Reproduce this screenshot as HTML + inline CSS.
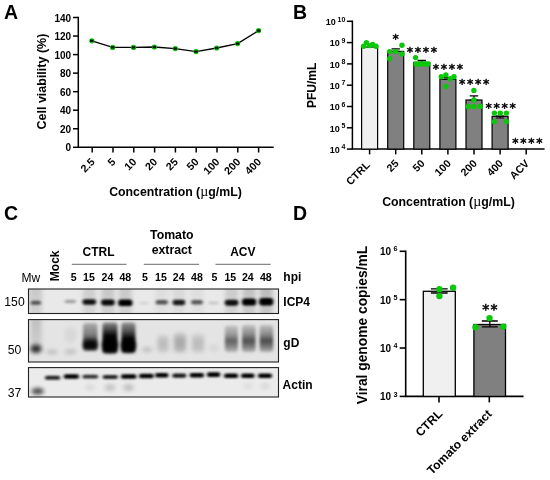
<!DOCTYPE html>
<html lang="en"><head><meta charset="utf-8"><title>Figure</title>
<style>html,body{margin:0;padding:0;background:#fff}svg{display:block}text{fill:#000}</style>
</head><body>
<svg width="550" height="480" viewBox="0 0 550 480">
<defs>
<filter id="b1" x="-50%" y="-200%" width="200%" height="500%"><feGaussianBlur stdDeviation="1.6 0.9"/></filter>
<filter id="b2" x="-50%" y="-100%" width="200%" height="300%"><feGaussianBlur stdDeviation="2 2.2"/></filter>
<filter id="b3" x="-50%" y="-100%" width="200%" height="300%"><feGaussianBlur stdDeviation="2.2 3.5"/></filter>
<filter id="b4" x="-50%" y="-200%" width="200%" height="500%"><feGaussianBlur stdDeviation="1.5 0.8"/></filter>
<filter id="b5" x="-50%" y="-50%" width="200%" height="200%"><feGaussianBlur stdDeviation="1.7 1.8"/></filter>
<linearGradient id="g1" x1="0" y1="0" x2="0" y2="1"><stop offset="0" stop-color="#000" stop-opacity="0.14"/><stop offset="1" stop-color="#000" stop-opacity="0.098"/></linearGradient>
<linearGradient id="g2" x1="0" y1="0" x2="0" y2="1"><stop offset="0" stop-color="#000" stop-opacity="0.12"/><stop offset="1" stop-color="#000" stop-opacity="0.08399999999999999"/></linearGradient>
<linearGradient id="g3" x1="0" y1="0" x2="0" y2="1"><stop offset="0" stop-color="#000" stop-opacity="0.15"/><stop offset="1" stop-color="#000" stop-opacity="0.105"/></linearGradient>
<linearGradient id="g4" x1="0" y1="0" x2="0" y2="1"><stop offset="0" stop-color="#000" stop-opacity="0.14"/><stop offset="1" stop-color="#000" stop-opacity="0.098"/></linearGradient>
<linearGradient id="g5" x1="0" y1="0" x2="0" y2="1"><stop offset="0" stop-color="#000" stop-opacity="0.05"/><stop offset="1" stop-color="#000" stop-opacity="0.034999999999999996"/></linearGradient>
<linearGradient id="g6" x1="0" y1="0" x2="0" y2="1"><stop offset="0" stop-color="#000" stop-opacity="0.07"/><stop offset="1" stop-color="#000" stop-opacity="0.049"/></linearGradient>
<linearGradient id="g7" x1="0" y1="0" x2="0" y2="1"><stop offset="0" stop-color="#000" stop-opacity="0.05"/><stop offset="1" stop-color="#000" stop-opacity="0.034999999999999996"/></linearGradient>
<linearGradient id="g8" x1="0" y1="0" x2="0" y2="1"><stop offset="0" stop-color="#000" stop-opacity="0.13"/><stop offset="1" stop-color="#000" stop-opacity="0.091"/></linearGradient>
<linearGradient id="g9" x1="0" y1="0" x2="0" y2="1"><stop offset="0" stop-color="#000" stop-opacity="0.18"/><stop offset="1" stop-color="#000" stop-opacity="0.126"/></linearGradient>
<linearGradient id="g10" x1="0" y1="0" x2="0" y2="1"><stop offset="0" stop-color="#000" stop-opacity="0.2"/><stop offset="1" stop-color="#000" stop-opacity="0.13999999999999999"/></linearGradient>
<linearGradient id="g11" x1="0" y1="0" x2="0" y2="1"><stop offset="0" stop-color="#000" stop-opacity="0.16"/><stop offset="1" stop-color="#000" stop-opacity="0.1"/></linearGradient>
<linearGradient id="g12" x1="0" y1="0" x2="0" y2="1"><stop offset="0" stop-color="#000" stop-opacity="0.24"/><stop offset="0.45" stop-color="#000" stop-opacity="0.48"/><stop offset="0.66" stop-color="#000" stop-opacity="0.82"/><stop offset="0.9" stop-color="#000" stop-opacity="0.9"/><stop offset="1" stop-color="#000" stop-opacity="0.4"/></linearGradient>
<linearGradient id="g13" x1="0" y1="0" x2="0" y2="1"><stop offset="0" stop-color="#000" stop-opacity="0.4"/><stop offset="0.25" stop-color="#000" stop-opacity="0.72"/><stop offset="0.42" stop-color="#000" stop-opacity="0.98"/><stop offset="0.95" stop-color="#000" stop-opacity="1"/><stop offset="1" stop-color="#000" stop-opacity="0.6"/></linearGradient>
<linearGradient id="g14" x1="0" y1="0" x2="0" y2="1"><stop offset="0" stop-color="#000" stop-opacity="0.36"/><stop offset="0.3" stop-color="#000" stop-opacity="0.66"/><stop offset="0.52" stop-color="#000" stop-opacity="0.98"/><stop offset="0.95" stop-color="#000" stop-opacity="1"/><stop offset="1" stop-color="#000" stop-opacity="0.6"/></linearGradient>
<linearGradient id="g15" x1="0" y1="0" x2="0" y2="1"><stop offset="0" stop-color="#000" stop-opacity="0.08"/><stop offset="0.4" stop-color="#000" stop-opacity="0.18"/><stop offset="1" stop-color="#000" stop-opacity="0.14"/></linearGradient>
<linearGradient id="g16" x1="0" y1="0" x2="0" y2="1"><stop offset="0" stop-color="#000" stop-opacity="0.12"/><stop offset="0.4" stop-color="#000" stop-opacity="0.27"/><stop offset="1" stop-color="#000" stop-opacity="0.2"/></linearGradient>
<linearGradient id="g17" x1="0" y1="0" x2="0" y2="1"><stop offset="0" stop-color="#000" stop-opacity="0.08"/><stop offset="0.4" stop-color="#000" stop-opacity="0.18"/><stop offset="1" stop-color="#000" stop-opacity="0.14"/></linearGradient>
<linearGradient id="g18" x1="0" y1="0" x2="0" y2="1"><stop offset="0" stop-color="#000" stop-opacity="0.14"/><stop offset="0.35" stop-color="#000" stop-opacity="0.34"/><stop offset="0.58" stop-color="#000" stop-opacity="0.58"/><stop offset="0.78" stop-color="#000" stop-opacity="0.42"/><stop offset="1" stop-color="#000" stop-opacity="0.2"/></linearGradient>
<linearGradient id="g19" x1="0" y1="0" x2="0" y2="1"><stop offset="0" stop-color="#000" stop-opacity="0.16"/><stop offset="0.35" stop-color="#000" stop-opacity="0.4"/><stop offset="0.58" stop-color="#000" stop-opacity="0.66"/><stop offset="0.78" stop-color="#000" stop-opacity="0.48"/><stop offset="1" stop-color="#000" stop-opacity="0.22"/></linearGradient>
<linearGradient id="g20" x1="0" y1="0" x2="0" y2="1"><stop offset="0" stop-color="#000" stop-opacity="0.16"/><stop offset="0.35" stop-color="#000" stop-opacity="0.4"/><stop offset="0.58" stop-color="#000" stop-opacity="0.68"/><stop offset="0.78" stop-color="#000" stop-opacity="0.5"/><stop offset="1" stop-color="#000" stop-opacity="0.22"/></linearGradient>
<clipPath id="c1"><rect x="28.5" y="289" width="250" height="24.5"/></clipPath>
<clipPath id="c2"><rect x="28.5" y="319.6" width="250" height="42.4"/></clipPath>
<clipPath id="c3"><rect x="28.5" y="367.6" width="250" height="29.4"/></clipPath>
</defs>
<rect width="550" height="480" fill="#fff"/>
<text x="3.9" y="19.25" font-family="Liberation Sans, Arial, sans-serif" font-weight="bold" font-size="19.5">A</text>
<text x="292.9" y="19.4" font-family="Liberation Sans, Arial, sans-serif" font-weight="bold" font-size="19.5">B</text>
<text x="4.1" y="219.6" font-family="Liberation Sans, Arial, sans-serif" font-weight="bold" font-size="19.5">C</text>
<text x="292.9" y="219.5" font-family="Liberation Sans, Arial, sans-serif" font-weight="bold" font-size="19.5">D</text>
<g stroke="#000" stroke-width="1.5" fill="none">
<path d="M78.3,16.75V147.3"/><path d="M77.55,147.3H273.7"/>
<path d="M73.0,147.30H78.3"/>
<path d="M73.0,128.76H78.3"/>
<path d="M73.0,110.21H78.3"/>
<path d="M73.0,91.67H78.3"/>
<path d="M73.0,73.13H78.3"/>
<path d="M73.0,54.59H78.3"/>
<path d="M73.0,36.04H78.3"/>
<path d="M73.0,17.50H78.3"/>
<path d="M92.2,147.3V152.5"/>
<path d="M113.0,147.3V152.5"/>
<path d="M133.8,147.3V152.5"/>
<path d="M154.6,147.3V152.5"/>
<path d="M175.4,147.3V152.5"/>
<path d="M196.2,147.3V152.5"/>
<path d="M217.0,147.3V152.5"/>
<path d="M237.8,147.3V152.5"/>
<path d="M258.6,147.3V152.5"/>
</g>
<text x="71.1" y="151.30" font-family="Liberation Sans, Arial, sans-serif" font-weight="bold" font-size="10" text-anchor="end">0</text>
<text x="71.1" y="132.76" font-family="Liberation Sans, Arial, sans-serif" font-weight="bold" font-size="10" text-anchor="end">20</text>
<text x="71.1" y="114.21" font-family="Liberation Sans, Arial, sans-serif" font-weight="bold" font-size="10" text-anchor="end">40</text>
<text x="71.1" y="95.67" font-family="Liberation Sans, Arial, sans-serif" font-weight="bold" font-size="10" text-anchor="end">60</text>
<text x="71.1" y="77.13" font-family="Liberation Sans, Arial, sans-serif" font-weight="bold" font-size="10" text-anchor="end">80</text>
<text x="71.1" y="58.59" font-family="Liberation Sans, Arial, sans-serif" font-weight="bold" font-size="10" text-anchor="end">100</text>
<text x="71.1" y="40.04" font-family="Liberation Sans, Arial, sans-serif" font-weight="bold" font-size="10" text-anchor="end">120</text>
<text x="71.1" y="21.50" font-family="Liberation Sans, Arial, sans-serif" font-weight="bold" font-size="10" text-anchor="end">140</text>
<text transform="translate(95.5,162.6) rotate(-45)" font-family="Liberation Sans, Arial, sans-serif" font-weight="bold" font-size="10.7" text-anchor="end">2.5</text>
<text transform="translate(116.3,162.6) rotate(-45)" font-family="Liberation Sans, Arial, sans-serif" font-weight="bold" font-size="10.7" text-anchor="end">5</text>
<text transform="translate(137.1,162.6) rotate(-45)" font-family="Liberation Sans, Arial, sans-serif" font-weight="bold" font-size="10.7" text-anchor="end">10</text>
<text transform="translate(157.9,162.6) rotate(-45)" font-family="Liberation Sans, Arial, sans-serif" font-weight="bold" font-size="10.7" text-anchor="end">20</text>
<text transform="translate(178.7,162.6) rotate(-45)" font-family="Liberation Sans, Arial, sans-serif" font-weight="bold" font-size="10.7" text-anchor="end">25</text>
<text transform="translate(199.5,162.6) rotate(-45)" font-family="Liberation Sans, Arial, sans-serif" font-weight="bold" font-size="10.7" text-anchor="end">50</text>
<text transform="translate(220.3,162.6) rotate(-45)" font-family="Liberation Sans, Arial, sans-serif" font-weight="bold" font-size="10.7" text-anchor="end">100</text>
<text transform="translate(241.1,162.6) rotate(-45)" font-family="Liberation Sans, Arial, sans-serif" font-weight="bold" font-size="10.7" text-anchor="end">200</text>
<text transform="translate(261.9,162.6) rotate(-45)" font-family="Liberation Sans, Arial, sans-serif" font-weight="bold" font-size="10.7" text-anchor="end">400</text>
<text transform="translate(46.0,81.6) rotate(-90)" font-family="Liberation Sans, Arial, sans-serif" font-weight="bold" font-size="12.5" text-anchor="middle">Cell viability (%)</text>
<text x="175.5" y="196" font-family="Liberation Sans, Arial, sans-serif" font-weight="bold" font-size="12.4" text-anchor="middle" textLength="132.7" lengthAdjust="spacingAndGlyphs">Concentration (<tspan font-family="Liberation Serif, serif" font-weight="normal" font-size="14">µ</tspan>g/mL)</text>
<polyline fill="none" stroke="#000" stroke-width="1.4" points="91.8,40.8 112.7,47.4 133.5,47.4 154.4,47.0 175.3,48.6 196,51.6 216.7,48 237.6,43.6 258.6,30.6"/>
<circle cx="91.8" cy="40.8" r="2.6" fill="#08c808"/>
<rect x="90.0" y="39.599999999999994" width="3.6" height="2.4" fill="#0a1a0a"/>
<circle cx="112.7" cy="47.4" r="2.6" fill="#08c808"/>
<rect x="110.9" y="46.199999999999996" width="3.6" height="2.4" fill="#0a1a0a"/>
<circle cx="133.5" cy="47.4" r="2.6" fill="#08c808"/>
<rect x="131.7" y="46.199999999999996" width="3.6" height="2.4" fill="#0a1a0a"/>
<circle cx="154.4" cy="47.0" r="2.6" fill="#08c808"/>
<rect x="152.6" y="45.8" width="3.6" height="2.4" fill="#0a1a0a"/>
<circle cx="175.3" cy="48.6" r="2.6" fill="#08c808"/>
<rect x="173.5" y="47.4" width="3.6" height="2.4" fill="#0a1a0a"/>
<circle cx="196" cy="51.6" r="2.6" fill="#08c808"/>
<rect x="194.2" y="50.4" width="3.6" height="2.4" fill="#0a1a0a"/>
<circle cx="216.7" cy="48" r="2.6" fill="#08c808"/>
<rect x="214.89999999999998" y="46.8" width="3.6" height="2.4" fill="#0a1a0a"/>
<circle cx="237.6" cy="43.6" r="2.6" fill="#08c808"/>
<rect x="235.79999999999998" y="42.4" width="3.6" height="2.4" fill="#0a1a0a"/>
<circle cx="258.6" cy="30.6" r="2.6" fill="#08c808"/>
<rect x="256.8" y="29.400000000000002" width="3.6" height="2.4" fill="#0a1a0a"/>
<g stroke="#000" stroke-width="1.5" fill="none">
<path d="M352.4,20.55V149.1"/><path d="M351.65,149.1H544.6"/>
<path d="M346.9,21.30H352.4"/>
<path d="M346.9,42.60H352.4"/>
<path d="M346.9,63.90H352.4"/>
<path d="M346.9,85.20H352.4"/>
<path d="M346.9,106.50H352.4"/>
<path d="M346.9,127.80H352.4"/>
<path d="M346.9,149.10H352.4"/>
<path d="M369.6,149.1V154.4"/>
<path d="M395.7,149.1V154.4"/>
<path d="M421.8,149.1V154.4"/>
<path d="M447.9,149.1V154.4"/>
<path d="M474.0,149.1V154.4"/>
<path d="M500.1,149.1V154.4"/>
<path d="M526.2,149.1V154.4"/>
</g>
<text x="345.3" y="25.10" font-family="Liberation Sans, Arial, sans-serif" font-weight="bold" font-size="9" text-anchor="end">10<tspan dx="1.7" dy="-3.6" font-size="7">10</tspan></text>
<text x="345.3" y="46.40" font-family="Liberation Sans, Arial, sans-serif" font-weight="bold" font-size="9" text-anchor="end">10<tspan dx="1.7" dy="-3.6" font-size="7">9</tspan></text>
<text x="345.3" y="67.70" font-family="Liberation Sans, Arial, sans-serif" font-weight="bold" font-size="9" text-anchor="end">10<tspan dx="1.7" dy="-3.6" font-size="7">8</tspan></text>
<text x="345.3" y="89.00" font-family="Liberation Sans, Arial, sans-serif" font-weight="bold" font-size="9" text-anchor="end">10<tspan dx="1.7" dy="-3.6" font-size="7">7</tspan></text>
<text x="345.3" y="110.30" font-family="Liberation Sans, Arial, sans-serif" font-weight="bold" font-size="9" text-anchor="end">10<tspan dx="1.7" dy="-3.6" font-size="7">6</tspan></text>
<text x="345.3" y="131.60" font-family="Liberation Sans, Arial, sans-serif" font-weight="bold" font-size="9" text-anchor="end">10<tspan dx="1.7" dy="-3.6" font-size="7">5</tspan></text>
<text x="345.3" y="152.90" font-family="Liberation Sans, Arial, sans-serif" font-weight="bold" font-size="9" text-anchor="end">10<tspan dx="1.7" dy="-3.6" font-size="7">4</tspan></text>
<rect x="361.6" y="47" width="16" height="102.1" fill="#f0f0f0" stroke="#000" stroke-width="1.2"/>
<rect x="387.7" y="51.4" width="16" height="97.7" fill="#808080" stroke="#000" stroke-width="1.2"/>
<rect x="413.8" y="62.4" width="16" height="86.7" fill="#808080" stroke="#000" stroke-width="1.2"/>
<rect x="439.9" y="79.3" width="16" height="69.8" fill="#808080" stroke="#000" stroke-width="1.2"/>
<rect x="466.0" y="100" width="16" height="49.1" fill="#808080" stroke="#000" stroke-width="1.2"/>
<rect x="492.1" y="116.3" width="16" height="32.8" fill="#808080" stroke="#000" stroke-width="1.2"/>
<path d="M395.70000000000005,48.9V51.4M391.50000000000006,48.9H399.90000000000003M391.50000000000006,51.4H399.90000000000003" stroke="#000" stroke-width="1.2" fill="none"/>
<path d="M421.8,60.4V62.4M417.6,60.4H426.0M417.6,62.4H426.0" stroke="#000" stroke-width="1.2" fill="none"/>
<path d="M447.90000000000003,77.6V79.3M443.70000000000005,77.6H452.1M443.70000000000005,79.3H452.1" stroke="#000" stroke-width="1.2" fill="none"/>
<path d="M474.0,95.9V100M469.8,95.9H478.2M469.8,100H478.2" stroke="#000" stroke-width="1.2" fill="none"/>
<path d="M500.1,116.2V118M495.90000000000003,116.2H504.3M495.90000000000003,118H504.3" stroke="#000" stroke-width="1.2" fill="none"/>
<circle cx="363.6" cy="46.2" r="2.7" fill="#08c808"/>
<circle cx="366.4" cy="42.6" r="2.7" fill="#08c808"/>
<circle cx="369.6" cy="45.6" r="2.7" fill="#08c808"/>
<circle cx="372.6" cy="44.4" r="2.7" fill="#08c808"/>
<circle cx="376" cy="46.2" r="2.7" fill="#08c808"/>
<circle cx="389.6" cy="51.6" r="2.7" fill="#08c808"/>
<circle cx="395.6" cy="51.6" r="2.7" fill="#08c808"/>
<circle cx="402" cy="45.2" r="2.7" fill="#08c808"/>
<circle cx="402" cy="54" r="2.7" fill="#08c808"/>
<circle cx="389.6" cy="58.6" r="2.7" fill="#08c808"/>
<circle cx="415.6" cy="57.6" r="2.7" fill="#08c808"/>
<circle cx="416" cy="64" r="2.7" fill="#08c808"/>
<circle cx="419" cy="64" r="2.7" fill="#08c808"/>
<circle cx="422" cy="64" r="2.7" fill="#08c808"/>
<circle cx="425" cy="64" r="2.7" fill="#08c808"/>
<circle cx="428" cy="64" r="2.7" fill="#08c808"/>
<circle cx="441.3" cy="76.7" r="2.7" fill="#08c808"/>
<circle cx="445.9" cy="74.9" r="2.7" fill="#08c808"/>
<circle cx="450.1" cy="78.8" r="2.7" fill="#08c808"/>
<circle cx="454" cy="76.7" r="2.7" fill="#08c808"/>
<circle cx="445.9" cy="86.5" r="2.7" fill="#08c808"/>
<circle cx="473.9" cy="90.4" r="2.7" fill="#08c808"/>
<circle cx="473.9" cy="100" r="2.7" fill="#08c808"/>
<circle cx="468.2" cy="106.5" r="2.7" fill="#08c808"/>
<circle cx="473.9" cy="106.5" r="2.7" fill="#08c808"/>
<circle cx="480.2" cy="106.5" r="2.7" fill="#08c808"/>
<circle cx="494.4" cy="113.1" r="2.7" fill="#08c808"/>
<circle cx="500.3" cy="113.1" r="2.7" fill="#08c808"/>
<circle cx="506.4" cy="113.1" r="2.7" fill="#08c808"/>
<circle cx="494.4" cy="121.6" r="2.7" fill="#08c808"/>
<circle cx="506.4" cy="121.6" r="2.7" fill="#08c808"/>
<text x="392.45" y="42.58" font-family="DejaVu Sans, sans-serif" font-size="12.6" letter-spacing="1.70" stroke="#000" stroke-width="0.5">*</text>
<text x="406.85" y="55.98" font-family="DejaVu Sans, sans-serif" font-size="12.6" letter-spacing="1.70" stroke="#000" stroke-width="0.5">****</text>
<text x="432.85" y="73.28" font-family="DejaVu Sans, sans-serif" font-size="12.6" letter-spacing="1.70" stroke="#000" stroke-width="0.5">****</text>
<text x="459.05" y="87.88" font-family="DejaVu Sans, sans-serif" font-size="12.6" letter-spacing="1.70" stroke="#000" stroke-width="0.5">****</text>
<text x="485.45" y="112.08" font-family="DejaVu Sans, sans-serif" font-size="12.6" letter-spacing="1.70" stroke="#000" stroke-width="0.5">****</text>
<text x="512.15" y="147.28" font-family="DejaVu Sans, sans-serif" font-size="12.6" letter-spacing="1.70" stroke="#000" stroke-width="0.5">****</text>
<text transform="translate(370.7,165.7) rotate(-45)" font-family="Liberation Sans, Arial, sans-serif" font-weight="bold" font-size="10.7" text-anchor="end">CTRL</text>
<text transform="translate(399.4,164.1) rotate(-45)" font-family="Liberation Sans, Arial, sans-serif" font-weight="bold" font-size="10.7" text-anchor="end">25</text>
<text transform="translate(425.5,164.1) rotate(-45)" font-family="Liberation Sans, Arial, sans-serif" font-weight="bold" font-size="10.7" text-anchor="end">50</text>
<text transform="translate(451.6,164.1) rotate(-45)" font-family="Liberation Sans, Arial, sans-serif" font-weight="bold" font-size="10.7" text-anchor="end">100</text>
<text transform="translate(477.7,164.1) rotate(-45)" font-family="Liberation Sans, Arial, sans-serif" font-weight="bold" font-size="10.7" text-anchor="end">200</text>
<text transform="translate(503.8,164.1) rotate(-45)" font-family="Liberation Sans, Arial, sans-serif" font-weight="bold" font-size="10.7" text-anchor="end">400</text>
<text transform="translate(529.9,164.1) rotate(-45)" font-family="Liberation Sans, Arial, sans-serif" font-weight="bold" font-size="10.7" text-anchor="end">ACV</text>
<text transform="translate(316.2,85.3) rotate(-90)" font-family="Liberation Sans, Arial, sans-serif" font-weight="bold" font-size="12" text-anchor="middle">PFU/mL</text>
<text x="448.5" y="206.2" font-family="Liberation Sans, Arial, sans-serif" font-weight="bold" font-size="12.4" text-anchor="middle" textLength="132.7" lengthAdjust="spacingAndGlyphs">Concentration (<tspan font-family="Liberation Serif, serif" font-weight="normal" font-size="14">µ</tspan>g/mL)</text>
<g stroke="#000" stroke-width="1.6" fill="none">
<path d="M405.7,250.5V396.4"/><path d="M404.9,396.4H523.6"/>
<path d="M399.7,251.30H405.7"/>
<path d="M399.7,299.67H405.7"/>
<path d="M399.7,348.03H405.7"/>
<path d="M399.7,396.40H405.7"/>
<path d="M439,396.4V402.4"/>
<path d="M489.3,396.4V402.4"/>
</g>
<text x="397.5" y="255.20" font-family="Liberation Sans, Arial, sans-serif" font-weight="bold" font-size="10" text-anchor="end">10<tspan dx="2.4" dy="-3.8" font-size="7.2">6</tspan></text>
<text x="397.5" y="303.57" font-family="Liberation Sans, Arial, sans-serif" font-weight="bold" font-size="10" text-anchor="end">10<tspan dx="2.4" dy="-3.8" font-size="7.2">5</tspan></text>
<text x="397.5" y="351.93" font-family="Liberation Sans, Arial, sans-serif" font-weight="bold" font-size="10" text-anchor="end">10<tspan dx="2.4" dy="-3.8" font-size="7.2">4</tspan></text>
<text x="397.5" y="400.30" font-family="Liberation Sans, Arial, sans-serif" font-weight="bold" font-size="10" text-anchor="end">10<tspan dx="2.4" dy="-3.8" font-size="7.2">3</tspan></text>
<rect x="423.3" y="291.3" width="32" height="105.1" fill="#f0f0f0" stroke="#000" stroke-width="1.3"/>
<rect x="473.9" y="324.5" width="31.6" height="71.9" fill="#808080" stroke="#000" stroke-width="1.3"/>
<path d="M439.3,288.8V293.0M430.90000000000003,288.8H447.7M430.90000000000003,293.0H447.7" stroke="#000" stroke-width="1.3" fill="none"/>
<path d="M489.8,321V326.9M481.8,321H497.8M481.8,326.9H497.8" stroke="#000" stroke-width="1.3" fill="none"/>
<circle cx="439.4" cy="289.2" r="3.2" fill="#08c808"/>
<circle cx="453.1" cy="287.8" r="3.2" fill="#08c808"/>
<circle cx="439.4" cy="296.1" r="3.2" fill="#08c808"/>
<circle cx="489.5" cy="318.1" r="3.2" fill="#08c808"/>
<circle cx="475.5" cy="327.2" r="3.2" fill="#08c808"/>
<circle cx="503.2" cy="326.6" r="3.2" fill="#08c808"/>
<text x="482.20" y="314.10" font-family="DejaVu Sans, sans-serif" font-size="14" letter-spacing="1.40" stroke="#000" stroke-width="0.55">**</text>
<text transform="translate(443.2,414.5) rotate(-45)" font-family="Liberation Sans, Arial, sans-serif" font-weight="bold" font-size="12.1" text-anchor="end">CTRL</text>
<text transform="translate(492.7,414.6) rotate(-45)" font-family="Liberation Sans, Arial, sans-serif" font-weight="bold" font-size="12.1" text-anchor="end">Tomato extract</text>
<text transform="translate(367.0,325) rotate(-90)" font-family="Liberation Sans, Arial, sans-serif" font-weight="bold" font-size="13.8" text-anchor="middle">Viral genome copies/mL</text>
<text x="21.5" y="282" font-family="Liberation Sans, Arial, sans-serif" font-size="12">Mw</text>
<text transform="translate(59.0,281.2) rotate(-90)" font-family="Liberation Sans, Arial, sans-serif" font-weight="bold" font-size="12">Mock</text>
<text x="98.6" y="256" font-family="Liberation Sans, Arial, sans-serif" font-weight="bold" font-size="12" text-anchor="middle">CTRL</text>
<text x="171.8" y="239" font-family="Liberation Sans, Arial, sans-serif" font-weight="bold" font-size="12.3" text-anchor="middle">Tomato</text>
<text x="171.8" y="253.6" font-family="Liberation Sans, Arial, sans-serif" font-weight="bold" font-size="12.3" text-anchor="middle">extract</text>
<text x="242.8" y="256.3" font-family="Liberation Sans, Arial, sans-serif" font-weight="bold" font-size="12" text-anchor="middle">ACV</text>
<g stroke="#444" stroke-width="0.8"><path d="M71.8,264.3H126.5"/><path d="M143.8,264.3H199.1"/><path d="M215.5,264.3H270.7"/></g>
<text x="73.7" y="281.2" font-family="Liberation Sans, Arial, sans-serif" font-weight="bold" font-size="10.6" text-anchor="middle">5</text>
<text x="89" y="281.2" font-family="Liberation Sans, Arial, sans-serif" font-weight="bold" font-size="10.6" text-anchor="middle">15</text>
<text x="107.5" y="281.2" font-family="Liberation Sans, Arial, sans-serif" font-weight="bold" font-size="10.6" text-anchor="middle">24</text>
<text x="125.3" y="281.2" font-family="Liberation Sans, Arial, sans-serif" font-weight="bold" font-size="10.6" text-anchor="middle">48</text>
<text x="144.9" y="281.2" font-family="Liberation Sans, Arial, sans-serif" font-weight="bold" font-size="10.6" text-anchor="middle">5</text>
<text x="161" y="281.2" font-family="Liberation Sans, Arial, sans-serif" font-weight="bold" font-size="10.6" text-anchor="middle">15</text>
<text x="178.7" y="281.2" font-family="Liberation Sans, Arial, sans-serif" font-weight="bold" font-size="10.6" text-anchor="middle">24</text>
<text x="196.9" y="281.2" font-family="Liberation Sans, Arial, sans-serif" font-weight="bold" font-size="10.6" text-anchor="middle">48</text>
<text x="214.5" y="281.2" font-family="Liberation Sans, Arial, sans-serif" font-weight="bold" font-size="10.6" text-anchor="middle">5</text>
<text x="230.3" y="281.2" font-family="Liberation Sans, Arial, sans-serif" font-weight="bold" font-size="10.6" text-anchor="middle">15</text>
<text x="247.8" y="281.2" font-family="Liberation Sans, Arial, sans-serif" font-weight="bold" font-size="10.6" text-anchor="middle">24</text>
<text x="265.8" y="281.2" font-family="Liberation Sans, Arial, sans-serif" font-weight="bold" font-size="10.6" text-anchor="middle">48</text>
<text x="283.3" y="281.2" font-family="Liberation Sans, Arial, sans-serif" font-weight="bold" font-size="12">hpi</text>
<text x="283.3" y="306" font-family="Liberation Sans, Arial, sans-serif" font-weight="bold" font-size="12">ICP4</text>
<text x="283.3" y="347.4" font-family="Liberation Sans, Arial, sans-serif" font-weight="bold" font-size="12">gD</text>
<text x="282.6" y="389" font-family="Liberation Sans, Arial, sans-serif" font-weight="bold" font-size="12">Actin</text>
<text x="24.7" y="306.1" font-family="Liberation Sans, Arial, sans-serif" font-size="12.2" text-anchor="end">150</text>
<text x="21.3" y="353.6" font-family="Liberation Sans, Arial, sans-serif" font-size="12.2" text-anchor="end">50</text>
<text x="21.3" y="397.0" font-family="Liberation Sans, Arial, sans-serif" font-size="12.2" text-anchor="end">37</text>
<rect x="28.5" y="289" width="250" height="24.5" fill="#e9e9e9"/>
<g clip-path="url(#c1)">
<rect x="29.0" y="287" width="13" height="29" rx="2" fill="url(#g1)" filter="url(#b2)"/>
<rect x="82.8" y="287" width="13" height="29" rx="2" fill="url(#g2)" filter="url(#b2)"/>
<rect x="101.4" y="287" width="13" height="29" rx="2" fill="url(#g3)" filter="url(#b2)"/>
<rect x="118.8" y="287" width="13" height="29" rx="2" fill="url(#g4)" filter="url(#b2)"/>
<rect x="155.3" y="287" width="13" height="29" rx="2" fill="url(#g5)" filter="url(#b2)"/>
<rect x="172.4" y="287" width="13" height="29" rx="2" fill="url(#g6)" filter="url(#b2)"/>
<rect x="190.5" y="287" width="13" height="29" rx="2" fill="url(#g7)" filter="url(#b2)"/>
<rect x="225.1" y="287" width="13" height="29" rx="2" fill="url(#g8)" filter="url(#b2)"/>
<rect x="242.6" y="287" width="13" height="29" rx="2" fill="url(#g9)" filter="url(#b2)"/>
<rect x="259.7" y="287" width="13" height="29" rx="2" fill="url(#g10)" filter="url(#b2)"/>
<rect x="30.799999999999997" y="300.8" width="10" height="4" rx="1.6" fill="#000" opacity="0.6" filter="url(#b1)"/>
<rect x="64.8" y="299.8" width="11" height="3.4" rx="1.3599999999999999" fill="#000" opacity="0.3" filter="url(#b1)"/>
<rect x="82.55" y="299.3" width="13.5" height="5.4" rx="2.16" fill="#000" opacity="0.92" filter="url(#b1)"/>
<rect x="101.15" y="299.6" width="13.5" height="5.8" rx="2.32" fill="#000" opacity="0.95" filter="url(#b1)"/>
<rect x="118.3" y="299.5" width="14" height="6.6" rx="2.6399999999999997" fill="#000" opacity="1" filter="url(#b1)"/>
<rect x="139.5" y="301.5" width="9" height="3" rx="1.2" fill="#000" opacity="0.08" filter="url(#b1)"/>
<rect x="155.8" y="299.9" width="12" height="4.6" rx="1.8399999999999999" fill="#000" opacity="0.62" filter="url(#b1)"/>
<rect x="172.65" y="299.8" width="12.5" height="5.4" rx="2.16" fill="#000" opacity="0.88" filter="url(#b1)"/>
<rect x="191.25" y="300.0" width="11.5" height="4.4" rx="1.7600000000000002" fill="#000" opacity="0.6" filter="url(#b1)"/>
<rect x="208.5" y="301.5" width="10" height="3" rx="1.2" fill="#000" opacity="0.14" filter="url(#b1)"/>
<rect x="224.85" y="299.7" width="13.5" height="6" rx="2.4" fill="#000" opacity="0.92" filter="url(#b1)"/>
<rect x="242.1" y="298.5" width="14" height="7" rx="2.8" fill="#000" opacity="1" filter="url(#b1)"/>
<rect x="259.2" y="298.1" width="14" height="7.4" rx="2.96" fill="#000" opacity="1" filter="url(#b1)"/>
</g>
<rect x="28.5" y="289" width="250" height="24.5" fill="none" stroke="#222" stroke-width="1.1"/>
<rect x="28.5" y="319.6" width="250" height="42.4" fill="#e4e4e4"/>
<g clip-path="url(#c2)">
<rect x="30.5" y="318" width="11" height="28" rx="2" fill="url(#g11)" filter="url(#b2)"/>
<ellipse cx="36" cy="348.7" rx="5.75" ry="4.25" fill="#000" opacity="0.8" filter="url(#b2)"/>
<ellipse cx="52" cy="352" rx="6.0" ry="2.0" fill="#000" opacity="0.18" filter="url(#b2)"/>
<ellipse cx="70.5" cy="351.7" rx="6.0" ry="2.5" fill="#000" opacity="0.16" filter="url(#b2)"/>
<ellipse cx="70.5" cy="335" rx="6.0" ry="8.0" fill="#000" opacity="0.05" filter="url(#b2)"/>
<rect x="83.05" y="323" width="14.5" height="28" rx="3" fill="url(#g12)" filter="url(#b5)"/>
<ellipse cx="90.3" cy="344.6" rx="7.25" ry="3.5" fill="#000" opacity="0.9" filter="url(#b2)"/>
<rect x="102.5" y="322.5" width="15" height="31.0" rx="3" fill="url(#g13)" filter="url(#b5)"/>
<ellipse cx="110" cy="345" rx="7.5" ry="6.5" fill="#000" opacity="1" filter="url(#b2)"/>
<rect x="121.4" y="322.5" width="14" height="30.5" rx="3" fill="url(#g14)" filter="url(#b5)"/>
<ellipse cx="128.4" cy="345.2" rx="7.0" ry="6.0" fill="#000" opacity="1" filter="url(#b2)"/>
<ellipse cx="147" cy="349.5" rx="5.0" ry="2.0" fill="#000" opacity="0.2" filter="url(#b2)"/>
<rect x="157.5" y="335" width="11" height="17" rx="3" fill="url(#g15)" filter="url(#b2)"/>
<rect x="174.0" y="333" width="12" height="19" rx="3" fill="url(#g16)" filter="url(#b2)"/>
<rect x="192.0" y="334" width="12" height="18" rx="3" fill="url(#g17)" filter="url(#b2)"/>
<ellipse cx="214" cy="348" rx="5.0" ry="4.0" fill="#000" opacity="0.05" filter="url(#b2)"/>
<rect x="224.9" y="325.5" width="13" height="26.5" rx="3" fill="url(#g18)" filter="url(#b5)"/>
<rect x="242.05" y="325" width="13.5" height="27" rx="3" fill="url(#g19)" filter="url(#b5)"/>
<rect x="259.65" y="325" width="13.5" height="27" rx="3" fill="url(#g20)" filter="url(#b5)"/>
</g>
<rect x="28.5" y="319.6" width="250" height="42.4" fill="none" stroke="#222" stroke-width="1.1"/>
<rect x="28.5" y="367.6" width="250" height="29.4" fill="#ebebeb"/>
<g clip-path="url(#c3)">
<ellipse cx="37.7" cy="391.3" rx="6.25" ry="3.25" fill="#000" opacity="0.7" filter="url(#b2)"/>
<rect x="45.1" y="375.8" width="15" height="4" rx="1.6" fill="#000" opacity="0.85" filter="url(#b4)"/>
<rect x="63.900000000000006" y="374.2" width="15" height="4.6" rx="1.8399999999999999" fill="#000" opacity="1" filter="url(#b4)"/>
<rect x="82.55" y="374.70000000000005" width="15.5" height="3.8" rx="1.52" fill="#000" opacity="0.8" filter="url(#b4)"/>
<rect x="102.8" y="374.9" width="15" height="4" rx="1.6" fill="#000" opacity="0.85" filter="url(#b4)"/>
<rect x="121.04999999999998" y="374.2" width="15.3" height="4.6" rx="1.8399999999999999" fill="#000" opacity="1" filter="url(#b4)"/>
<rect x="139.15" y="373.7" width="14.5" height="4.6" rx="1.8399999999999999" fill="#000" opacity="1" filter="url(#b4)"/>
<rect x="155.20000000000002" y="373.1" width="13.2" height="4.4" rx="1.7600000000000002" fill="#000" opacity="1" filter="url(#b4)"/>
<rect x="172.4" y="373.59999999999997" width="13.8" height="4.2" rx="1.6800000000000002" fill="#000" opacity="0.9" filter="url(#b4)"/>
<rect x="189.70000000000002" y="373.1" width="14.2" height="4.4" rx="1.7600000000000002" fill="#000" opacity="1" filter="url(#b4)"/>
<rect x="207.0" y="372.3" width="13.2" height="4.6" rx="1.8399999999999999" fill="#000" opacity="1" filter="url(#b4)"/>
<rect x="224.2" y="373.5" width="13.8" height="4.6" rx="1.8399999999999999" fill="#000" opacity="1" filter="url(#b4)"/>
<rect x="241.20000000000002" y="373.6" width="13.2" height="4.4" rx="1.7600000000000002" fill="#000" opacity="1" filter="url(#b4)"/>
<rect x="258.1" y="373.6" width="13.8" height="4.4" rx="1.7600000000000002" fill="#000" opacity="1" filter="url(#b4)"/>
<ellipse cx="90" cy="387.5" rx="5.0" ry="3.0" fill="#000" opacity="0.08" filter="url(#b2)"/>
<ellipse cx="110" cy="387.5" rx="5.5" ry="3.5" fill="#000" opacity="0.16" filter="url(#b2)"/>
<ellipse cx="128.5" cy="387.5" rx="5.5" ry="3.5" fill="#000" opacity="0.18" filter="url(#b2)"/>
<ellipse cx="248" cy="386" rx="5.0" ry="3.0" fill="#000" opacity="0.06" filter="url(#b2)"/>
<ellipse cx="265" cy="386" rx="5.0" ry="3.0" fill="#000" opacity="0.08" filter="url(#b2)"/>
</g>
<rect x="28.5" y="367.6" width="250" height="29.4" fill="none" stroke="#222" stroke-width="1.1"/>
</svg>
</body></html>
